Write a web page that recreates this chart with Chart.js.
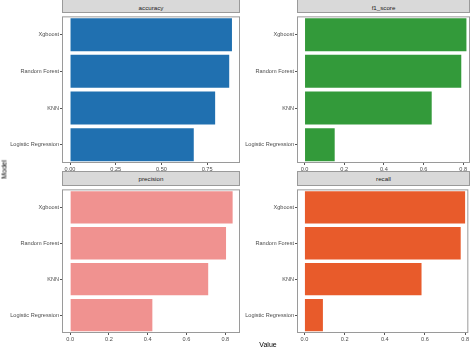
<!DOCTYPE html>
<html>
<head>
<meta charset="utf-8">
<script src="https://cdn.jsdelivr.net/npm/chart.js@4/dist/chart.umd.min.js"></script>
<style>
  body { margin: 0; background: #fff; }
  #wrap { position: relative; width: 474px; height: 351px; overflow: hidden; font-family: "Liberation Sans", Arial, sans-serif; }
  .panel { position: absolute; }
  .strip { position: absolute; background: #d9d9d9; border: 1px solid #9a9a9a; box-sizing: border-box;
           font-size: 6.2px; color: #1a1a1a; text-align: center; }
  .axis-title { position: absolute; font-size: 7px; color: #000; }
</style>
</head>
<body>
<div id="wrap">
  <div class="strip" style="left:62px;top:-2px;width:178px;height:15px;line-height:15px;padding-top:1px">accuracy</div>
  <div class="strip" style="left:297px;top:-2px;width:173px;height:15px;line-height:15px;padding-top:1px">f1_score</div>
  <div class="strip" style="left:62px;top:171px;width:178px;height:15px;line-height:13px">precision</div>
  <div class="strip" style="left:297px;top:171px;width:173px;height:15px;line-height:13px">recall</div>

  <div class="panel" style="left:0;top:12px;width:240px;height:161px"><canvas id="accChart"></canvas></div>
  <div class="panel" style="left:240px;top:12px;width:230px;height:161px"><canvas id="f1Chart"></canvas></div>
  <div class="panel" style="left:0;top:185px;width:240px;height:158px"><canvas id="precChart"></canvas></div>
  <div class="panel" style="left:240px;top:185px;width:230px;height:158px"><canvas id="recChart"></canvas></div>

  <div class="axis-title" style="left:252px;top:341px;width:32px;text-align:center">Value</div>
  <div class="axis-title" style="left:-12px;top:166px;width:32px;text-align:center;transform:rotate(-90deg)">Model</div>
</div>

<script>
// Models (top to bottom in every panel)
const models = ['Xgboost', 'Random Forest', 'KNN', 'Logistic Regression'];

// Metric values
const accuracy = [0.886, 0.871, 0.794, 0.677];
const f1Score = [0.816, 0.790, 0.641, 0.152];
const precision = [0.838, 0.804, 0.712, 0.424];
const recall = [0.800, 0.778, 0.583, 0.092];

// Tick labels on the value axes
const accTicks = [0, 0.25, 0.5, 0.75];
const otherTicks = [0, 0.2, 0.4, 0.6, 0.8];

/**
 * Draw a grey border round the plotting area, like a ggplot panel
 */
const panelBorder = {
    id: 'panelBorder',
    afterDraw(chart) {
        const a = chart.chartArea;
        const ctx = chart.ctx;
        ctx.save();
        ctx.strokeStyle = '#9a9a9a';
        ctx.lineWidth = 1;
        ctx.strokeRect(a.left + 0.5, a.top + 0.5, a.right - a.left - 1, a.bottom - a.top - 1);
        ctx.restore();
    }
};

/**
 * Render one facet as a horizontal bar chart
 */
function renderPanel(id, values, color, ticks, decimals, min, max, yWidth) {
    const ctx = document.getElementById(id).getContext('2d');

    new Chart(ctx, {
        type: 'bar',
        data: {
            labels: models,
            datasets: [{
                data: values,
                backgroundColor: color,
                borderWidth: 0,
                categoryPercentage: 1,
                barPercentage: 0.9
            }]
        },
        options: {
            indexAxis: 'y',
            responsive: true,
            maintainAspectRatio: false,
            animation: false,
            layout: { padding: 0 },
            plugins: {
                legend: { display: false },
                tooltip: { enabled: false }
            },
            scales: {
                x: {
                    type: 'linear',
                    min: min,
                    max: max,
                    afterBuildTicks: axis => {
                        axis.ticks = ticks.map(v => ({ value: v }));
                    },
                    afterFit: axis => { axis.height = 10; },
                    border: { display: false },
                    grid: { drawOnChartArea: false, tickLength: 2, color: '#555' },
                    ticks: {
                        padding: 1,
                        maxRotation: 0,
                        color: '#4d4d4d',
                        font: { size: 5.6, family: 'Liberation Sans' },
                        callback: v => Number(v).toFixed(decimals)
                    }
                },
                y: {
                    afterFit: axis => { axis.width = yWidth; },
                    border: { display: false },
                    grid: { drawOnChartArea: false, offset: false, tickLength: 2, color: '#555' },
                    ticks: {
                        padding: 1,
                        color: '#4d4d4d',
                        font: { size: 5.6, family: 'Liberation Sans' }
                    }
                }
            }
        },
        plugins: [panelBorder]
    });
}

renderPanel('accChart', accuracy, '#2070b0', accTicks, 2, -0.044, 0.93, 62);
renderPanel('f1Chart', f1Score, '#339a3a', otherTicks, 1, -0.038, 0.834, 57);
renderPanel('precChart', precision, '#f09290', otherTicks, 1, -0.042, 0.876, 62);
renderPanel('recChart', recall, '#e85b2b', otherTicks, 1, -0.037, 0.816, 57);
</script>
</body>
</html>
